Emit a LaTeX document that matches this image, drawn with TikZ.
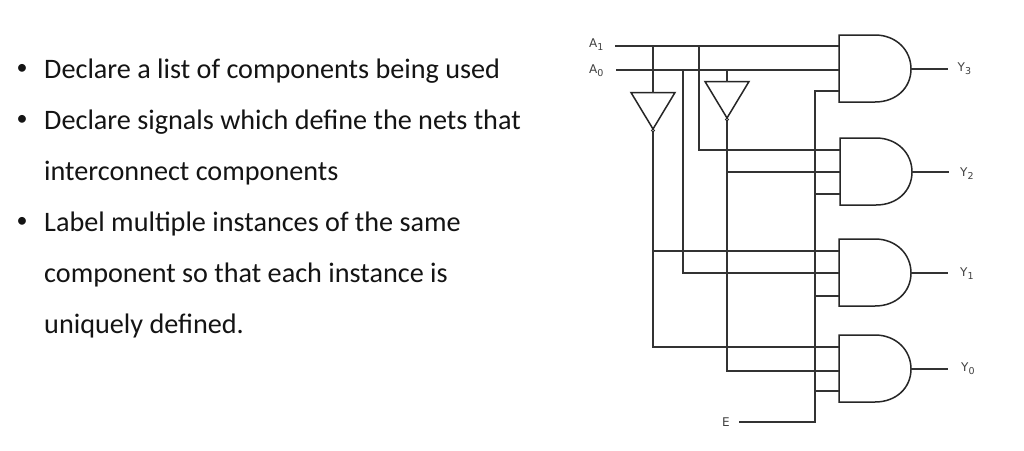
\documentclass[tikz,border=0pt]{standalone}
\usepackage{fontspec}
\setmainfont{Carlito}
\newfontfamily\labelfont{DejaVu Sans}
\newcommand{\pinsub}[1]{{\fontsize{9.5}{10}\selectfont\raisebox{-3pt}{#1}}}
\tikzset{
  wire/.style={draw=black!80,line width=1.5pt,line join=miter},
  gateshape/.style={draw=black!85,line width=1.5pt,fill=white,line join=miter},
  bodytext/.style={anchor=base west,inner sep=0pt,font=\fontsize{28.2}{32}\selectfont,text=black!92},
  bulletmark/.style={anchor=base,inner sep=0pt,font=\fontsize{22}{26}\selectfont,text=black!92},
  pinlabel/.style={inner sep=0pt,font=\labelfont\fontsize{12}{14}\selectfont,text=black!75},
}
\newcommand{\andgate}[6]{% name, left x, top y, a, b, c input offsets
  \begin{scope}[shift={(#2,#3)}]
    \path[gateshape] (0,0) -- (36,0) .. controls (57,0) and (72,15) .. (72,34)
       .. controls (72,53) and (57,67) .. (36,67) -- (0,67) -- cycle;
    \coordinate (#1-out) at (72,34);
    \coordinate (#1-a) at (0,#4);
    \coordinate (#1-b) at (0,#5);
    \coordinate (#1-c) at (0,#6);
    \coordinate (#1-end) at (109,34);
  \end{scope}
  \draw[wire] (#1-out) -- (#1-end);
}
\newcommand{\notgate}[4]{% name, centre x, top y, apex y
  \path[gateshape] (#2-22,#3) -- (#2+22,#3) -- (#2,#4) -- cycle;
  \coordinate (#1-in) at (#2,#3);
  \coordinate (#1-out) at (#2,#4+3);
  \draw[draw=black!85,line width=1pt,fill=white] (#2,#4+1.5) circle (1.5);
}
\begin{document}
\begin{tikzpicture}[x=1pt,y=-1pt]
\useasboundingbox (0,0) rectangle (1024,450);
\fill[white] (0,0) rectangle (1024,450);
% text
\foreach \n/\yy in {b1/74,b2/125,b3/227}{\node[bulletmark] (\n) at (22,\yy) {•};}
\node[bodytext] (t1) at (44,78) {Declare a list of components being used};
\node[bodytext] (t2) at (44,129) {Declare signals which define the nets that};
\node[bodytext] (t3) at (44,180) {interconnect components};
\node[bodytext] (t4) at (44,231) {Label multiple instances of the same};
\node[bodytext] (t5) at (44,282) {component so that each instance is};
\node[bodytext] (t6) at (44,333) {uniquely defined.};
% gates
\andgate{g3}{839}{35}{11}{35}{56}
\andgate{g2}{840}{138}{12}{34}{56}
\andgate{g1}{839}{239}{12}{34}{57}
\andgate{g0}{839}{335}{12}{36}{56}
\notgate{n1}{653}{92.5}{129}
\notgate{n0}{727}{81.5}{118}
% labels and free ends
\node[pinlabel,anchor=west] (A1) at (589,45) {A\pinsub{1}};
\node[pinlabel,anchor=west] (A0) at (589,71) {A\pinsub{0}};
\node[pinlabel] (E) at (726,422) {E};
\node[pinlabel,anchor=west] (Y3) at (957.5,68.5) {Y\pinsub{3}};
\node[pinlabel,anchor=west] (Y2) at (960,174) {Y\pinsub{2}};
\node[pinlabel,anchor=west] (Y1) at (960,274) {Y\pinsub{1}};
\node[pinlabel,anchor=west] (Y0) at (961,369) {Y\pinsub{0}};
\coordinate (a1s) at (615,46);
\coordinate (a0s) at (616,70);
\coordinate (es) at (739,422);
\coordinate (ebus) at (815,422);
% A lines
\draw[wire] (a1s) -- (g3-a |- a1s);
\draw[wire] (a0s) -- (g3-b |- a0s);
% inverter inputs
\draw[wire] (n1-in |- a1s) -- (n1-in);
\draw[wire] (n0-in |- a0s) -- (n0-in);
% true-signal rails
\coordinate (r1) at (699,46);
\coordinate (r0) at (683,70);
\draw[wire] (r1) |- (g2-a);
\draw[wire] (r0) |- (g1-b);
% inverted rails
\draw[wire] (n0-out) |- (g0-b);
\draw[wire] (n0-out |- g2-b) -- (g2-b);
\draw[wire] (n1-out) |- (g0-a);
\draw[wire] (n1-out |- g1-a) -- (g1-a);
% enable
\draw[wire] (es) -- (ebus) |- (g3-c);
\draw[wire] (ebus |- g2-c) -- (g2-c);
\draw[wire] (ebus |- g1-c) -- (g1-c);
\draw[wire] (ebus |- g0-c) -- (g0-c);
\end{tikzpicture}
\end{document}
